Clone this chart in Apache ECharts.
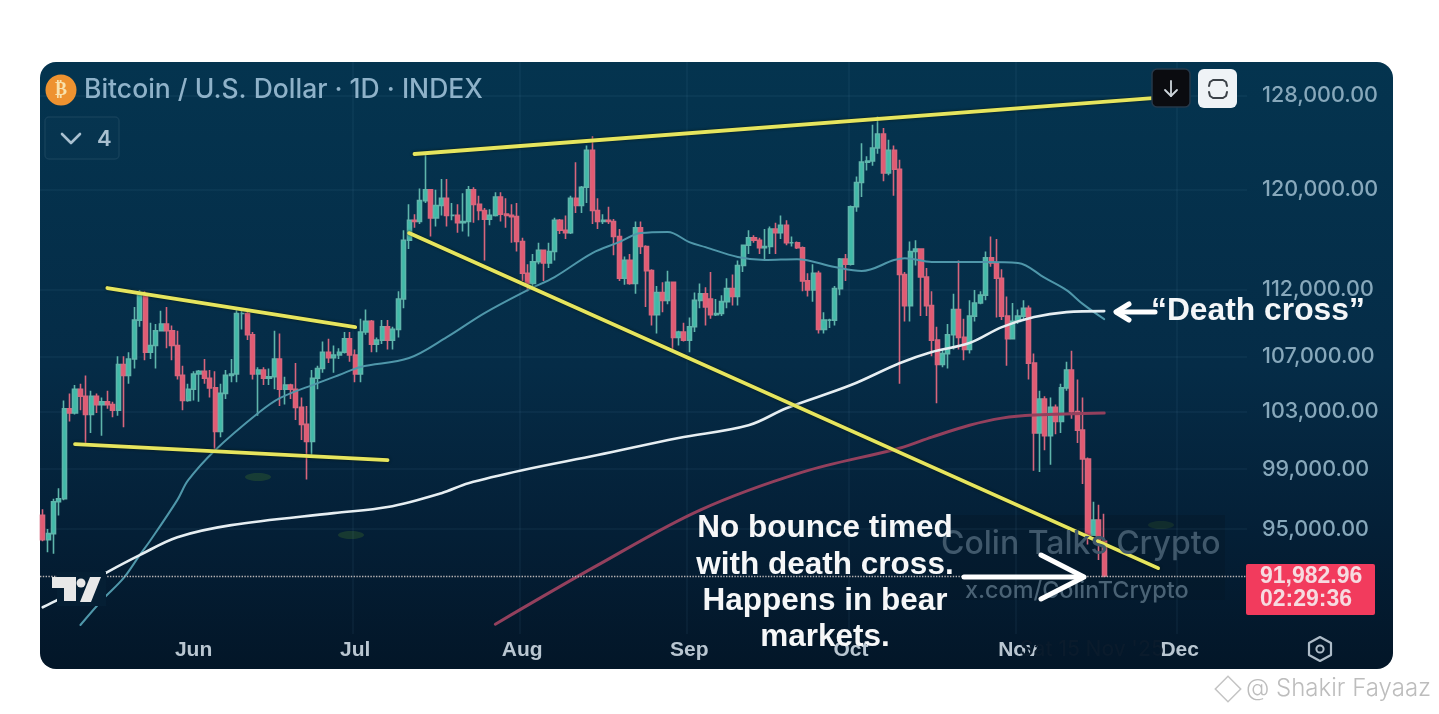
<!DOCTYPE html>
<html><head><meta charset="utf-8">
<style>html,body{margin:0;padding:0;background:#fff}#c{width:1439px;height:714px}</style>
<script src="https://cdn.jsdelivr.net/npm/echarts@6/dist/echarts.min.js"></script>
</head><body><div id="c"></div>
<script>
const opens=[95900,94300,94700,96800,97000,103200,102900,104600,104100,102800,104100,103500,103700,103500,103100,106400,105600,106800,109700,111700,107300,107800,108900,109400,108900,107800,105600,103800,
104600,105700,105900,105400,104700,101600,104300,105600,105700,110200,110200,108600,105700,106000,105400,105500,106800,104600,104900,104600,103300,102100,100900,105400,106100,107300,106900,107100,107300,108300,
107100,105700,108800,109600,107900,108200,109200,108200,109000,111300,115900,117500,117400,119100,120000,117700,118700,119300,117900,117900,117300,117400,120000,118800,118300,117600,117900,119400,118000,117900,117800,
115800,113300,112500,114200,115100,114100,115000,117500,116700,116500,119300,118700,120200,123300,118300,117400,117500,117400,116200,112900,114300,112500,116900,115400,113500,110100,111800,111200,112600,108400,108800,
108200,109200,111200,111700,111300,110100,110200,111100,112100,111500,113900,115500,116100,115900,115300,115400,116800,116500,117100,115700,115700,115300,112700,112000,113300,109000,109700,109700,112100,114400,
114000,118600,120600,122300,122400,123500,124700,121400,123300,121700,113200,110800,115000,115200,113000,110800,108200,106400,107200,108600,110500,108400,107500,110000,111000,111600,114500,114100,112900,110000,108300,
109600,110000,110600,106500,101500,103900,101300,103300,102300,104700,106000,103000,101700,99700,94600,95600,94200];
const closes=[94300,94700,96800,97000,103200,102900,104600,104100,102800,104100,103500,103700,103500,103100,106400,105600,106800,109700,111700,107300,107800,108900,109400,108900,107800,105600,103800,104600,
105700,105900,105400,104700,101600,104300,105600,105700,110200,110200,108600,105700,106000,105400,105500,106800,104600,104900,104600,103300,102100,100900,105400,106100,107300,106900,107100,107300,108300,107100,
105700,108800,109600,107900,108200,109200,108200,109000,111300,115900,117500,117400,119100,120000,117700,118700,119300,117900,117900,117300,117400,120000,118800,118300,117600,117900,119400,118000,117900,117800,115800,
113300,112500,114200,115100,114100,115000,117500,116700,116500,119300,118700,120200,123300,118300,117400,117500,117400,116200,112900,114300,112500,116900,115400,113500,110100,111800,111200,112600,108400,108800,108200,
109200,111200,111700,110700,110100,110200,111100,112100,111500,113900,115500,116100,115900,115300,115400,116800,116500,117100,115700,115700,115300,112700,112000,113300,109000,109700,109700,112100,114400,114000,
118600,120600,122300,122400,123500,124700,121400,123300,121700,113200,110800,115000,115200,113000,110800,108200,106400,107200,108600,110500,108400,107500,110000,111000,111600,114500,114100,112900,110000,108300,109600,
110000,110600,106500,101500,103900,101300,103300,102300,104700,106000,103000,101700,99700,94600,95600,94200,91983];
const lows=[94200,93500,93400,95900,96900,102300,102800,103100,100800,101500,102900,101300,103200,102600,102700,101900,105000,106100,109200,106700,106800,106100,108900,107600,106700,105300,103100,103700,
103800,103700,105000,104000,100400,101200,103900,105100,105100,109000,108200,105300,102700,104900,104900,104600,103400,103500,103900,102400,101000,98300,99800,104600,105800,106500,105800,106800,107200,106600,
105100,105100,108600,107300,107300,107900,107500,107500,108400,110600,115200,116900,117200,118900,116200,117000,117900,117000,117500,116500,116600,116200,117300,117500,114300,117100,117800,117400,116900,115700,115000,
112700,111900,112000,114000,112700,113700,114300,116400,116000,116400,118100,118100,118900,117200,116800,117200,117200,114700,112700,112400,112400,111700,114800,110700,109300,108700,110300,110900,107500,107800,108100,
107300,108800,110600,109300,109800,110000,110000,110600,110800,110800,113400,114800,115700,114800,114400,114800,114800,116000,115500,115400,115200,111900,111500,111100,108700,108700,109100,109300,111600,112700,
113900,118200,119400,121600,122000,123000,120700,121200,119500,105000,109600,109600,113900,110000,110000,107000,103600,106200,106100,107500,107500,106700,107200,109600,110900,111200,113800,109900,109700,106300,108300,
109400,109700,105300,98900,98800,100300,99300,101400,101500,104500,102500,100800,98000,94000,94600,93000,91900];
const highs=[96300,95000,97000,97700,103800,104300,104900,105000,105600,104500,104300,104000,104500,103700,107000,107000,107300,110700,112000,111900,109500,109400,110400,110700,109300,108900,106300,105000,
105900,106000,106800,106000,105900,105000,106000,106800,110600,110600,110400,108800,106200,106200,106100,108900,108700,105500,105000,106500,104000,103400,106000,106300,108100,108300,107800,107600,108800,108800,
107500,109800,110500,109700,108400,109700,109700,109200,111900,116700,118800,118000,120100,123100,120000,120000,120900,120900,118900,118800,119700,120300,120200,119500,118500,118400,119800,119800,119300,118800,118900,
116100,114000,114800,115700,115100,115700,117700,117600,117900,119500,122300,120300,123700,124500,119300,118000,118600,117600,116800,114600,114800,117400,117400,115500,113600,112300,112600,113500,112600,108900,109500,
109900,111800,112500,112200,113400,111300,111600,112900,113200,114300,115500,116700,116300,116100,116800,117000,117300,117900,117500,116200,115800,115400,113300,114000,113500,110300,109800,112300,114500,114800,
118700,121100,123900,122800,125500,126200,125200,124200,123700,122500,113400,115800,115900,115200,113700,111900,109200,107500,109400,111700,114300,109800,111200,112000,111900,115000,116200,116000,113600,111500,111000,
110500,111200,110800,107200,104500,104100,104000,103500,105000,106600,107400,105300,104000,99800,96800,96600,96000];
const ma50=[['2025-05-11',88930],['2025-05-15',90460],['2025-05-19',91840],['2025-05-22',93310],['2025-05-24',94270],['2025-05-29',96930],['2025-05-31',98250],['2025-06-05',100300],['2025-06-13',102900],['2025-06-17',103960],['2025-06-24',105040],['2025-06-28',105630],['2025-07-02',106210],['2025-07-11',106870],['2025-07-18',108420],['2025-07-25',110230],['2025-08-02',111990],['2025-08-07',113000],['2025-08-14',114880],['2025-08-19',115750],['2025-08-23',116470],['2025-08-28',116560],['2025-09-01',115750],['2025-09-04',115350],['2025-09-10',114570],['2025-09-15',114330],['2025-09-21',114400],['2025-09-28',113780],['2025-10-03',113470],['2025-10-09',114330],['2025-10-11',114480],['2025-10-16',114180],['2025-10-26',114180],['2025-11-01',114100],['2025-11-06',112930],['2025-11-10',111990],['2025-11-13',110930],['2025-11-17',109770]];
const ma100=[['2025-05-04',90020],['2025-05-07',90530],['2025-05-16',92230],['2025-05-22',93310],['2025-05-29',94470],['2025-06-08',95260],['2025-06-27',96050],['2025-07-07',96450],['2025-07-17',97380],['2025-07-22',98050],['2025-08-01',98930],['2025-08-15',99970],['2025-08-30',101150],['2025-09-12',102040],['2025-09-19',103240],['2025-10-01',104900],['2025-10-10',106490],['2025-10-16',107320],['2025-10-23',107980],['2025-10-29',109170],['2025-11-04',109930],['2025-11-10',110300],['2025-11-17',110380]];
const ma200=[['2025-07-27',88980],['2025-08-15',92670],['2025-09-03',96250],['2025-09-22',98800],['2025-10-10',100440],['2025-10-16',101210],['2025-10-23',102040],['2025-10-29',102540],['2025-11-04',102760],['2025-11-17',102900]];
const trendUpper=[['2025-05-16',112150],['2025-07-01',109170]];
const trendLower=[['2025-05-10',100720],['2025-07-07',99620]];
const trendTop=[['2025-07-12',122990],['2025-11-26',127820]];
const trendLong=[['2025-07-11',116470],['2025-11-27',92480]];
const priceTicks=[95000,99000,103000,107000,112000,120000,128000];
const monthLabels={'06':'Jun','07':'Jul','08':'Aug','09':'Sep','10':'Oct','11':'Nov','12':'Dec'};
const lastPrice=91982.96;

const categories=[];
for(let i=0;i<224;i++){categories.push(new Date(Date.UTC(2025,4,4+i)).toISOString().slice(0,10));}
const candles=opens.map((o,i)=>[o,closes[i],lows[i],highs[i]]);
const isMonthStart=(idx,v)=>v.slice(8)==='01'&&monthLabels[v.slice(5,7)]!==undefined;
const sans='Inter, "Liberation Sans", sans-serif';
const bold='"Liberation Sans", Arial, sans-serif';
const line=(name,data,color,width,z,extra)=>Object.assign({name,type:'line',data,symbol:'none',silent:true,z,animation:false,
  lineStyle:{color,width,cap:'round'}},extra||{});
const yellowStyle={color:'#e6e55e',width:3.8,cap:'round',shadowColor:'rgba(10,20,0,.75)',shadowBlur:3};
const t=(x,y,text,font,fill,extra)=>({type:'text',z:200,x,y,style:Object.assign({text,font,fill,textAlign:'left',textVerticalAlign:'middle'},extra||{})});
const pl=(points,stroke,lw,z)=>({type:'polyline',z:z||200,shape:{points},style:{stroke,lineWidth:lw,fill:null,lineCap:'round',lineJoin:'round'}});

const graphics=[
 {type:'rect',z:-10,shape:{x:40,y:62,width:1353,height:607,r:16},style:{fill:{type:'linear',x:0,y:0,x2:0,y2:1,colorStops:[{offset:0,color:'#04344f'},{offset:.5,color:'#052c47'},{offset:.78,color:'#041f36'},{offset:1,color:'#031628'}]}}},
 {type:'ellipse',z:-5,shape:{cx:258,cy:477,rx:13,ry:4},style:{fill:'rgba(70,120,40,.30)'}},
 {type:'ellipse',z:-5,shape:{cx:351,cy:535,rx:13,ry:4},style:{fill:'rgba(70,120,40,.30)'}},
 {type:'ellipse',z:-5,shape:{cx:1161,cy:525,rx:13,ry:4},style:{fill:'rgba(70,120,40,.30)'}},
 {type:'rect',z:-4,shape:{x:950,y:515,width:275,height:85},style:{fill:'rgba(6,22,38,.35)'}},
 t(941,544,'Colin Talks Crypto','500 32px '+sans,'#40586b',{}),
 t(965,591,'x.com/ColinTCrypto','500 23.4px '+sans,'#4a6274',{}),
 {type:'circle',z:200,shape:{cx:61,cy:90,r:15.5},style:{fill:'#ee9230'}},
 t(61,90,'₿','bold 18px "DejaVu Sans"','#f8e2ae',{textAlign:'center'}),
 t(84,90,'Bitcoin / U.S. Dollar · 1D · INDEX','500 26.5px '+sans,'#8fb2c9'),
 {type:'rect',z:200,shape:{x:45,y:117,width:74,height:42,r:4},style:{fill:'rgba(255,255,255,.01)',stroke:'#15405a',lineWidth:1.5}},
 pl([[62,134],[71,143],[80,134]],'#a9c0d0',2.6),
 t(97,139,'4','600 22px '+sans,'#a9c0d0'),
 {type:'rect',z:200,shape:{x:1152,y:69,width:38,height:38,r:5},style:{fill:'#0b0c10',stroke:'#25384a',lineWidth:1.5}},
 pl([[1171,81],[1171,96]],'#cfd6dc',1.8),pl([[1165,90],[1171,96],[1177,90]],'#cfd6dc',1.8),
 {type:'rect',z:200,shape:{x:1198,y:69,width:39,height:39,r:6},style:{fill:'#eff3f6'}},
 pl([[1209,86],[1210,82],[1213,80],[1223,80],[1226,82],[1227,86]],'#3c4248',2),
 pl([[1209,92],[1210,96],[1213,98],[1223,98],[1226,96],[1227,92]],'#3c4248',2),
 {type:'rect',z:200,shape:{x:57,y:572,width:49,height:34},style:{fill:'#051f34'}},
 {type:'polygon',z:201,shape:{points:[[52,577],[76,577],[76,601],[64,601],[64,588],[52,588]]},style:{fill:'#e8e8e8'}},
 {type:'circle',z:201,shape:{cx:81,cy:583,r:4.5},style:{fill:'#e8e8e8'}},
 {type:'polygon',z:201,shape:{points:[[90,577],[101,577],[91,602],[80,602]]},style:{fill:'#e8e8e8'}},
 {type:'rect',z:200,shape:{x:1246,y:564,width:129,height:51,r:2},style:{fill:'#f23b5d'}},
 t(1260,577,'91,982.96','bold 23px '+bold,'#f6dbe0'),
 t(1260,600,'02:29:36','bold 23px '+bold,'#f6dbe0'),
 {type:'polygon',z:200,shape:{points:[[1320,637],[1331,643],[1331,655],[1320,661],[1309,655],[1309,643]]},style:{fill:null,stroke:'#aebcc8',lineWidth:2.2,lineJoin:'round'}},
 {type:'circle',z:200,shape:{cx:1320,cy:649,r:3.6},style:{fill:null,stroke:'#aebcc8',lineWidth:2}},
 t(1020,650,'Sat 15 Nov \'25','500 21px '+sans,'#0a1b2c'),
 pl([[1117,312],[1155,312]],'#ffffff',5,210),pl([[1129,304],[1116,312],[1129,320]],'#ffffff',5,210),
 t(1151,311,'“Death cross”','bold 31.8px '+bold,'#f4f6f8',{}),
 pl([[964,577],[1082,577]],'#ffffff',5,210),pl([[1041,555],[1084,577],[1041,599]],'#ffffff',5,210),
 t(825,528,'No bounce timed','bold 31.5px '+bold,'#f6f7f8',{textAlign:'center'}),
 t(825,565,'with death cross.','bold 31.5px '+bold,'#f6f7f8',{textAlign:'center'}),
 t(825,601,'Happens in bear','bold 31.5px '+bold,'#f6f7f8',{textAlign:'center'}),
 t(825,637,'markets.','bold 31.5px '+bold,'#f6f7f8',{textAlign:'center'}),
 {type:'rect',z:200,x:1228,y:689,rotation:Math.PI/4,shape:{x:-9,y:-9,width:18,height:18},style:{fill:null,stroke:'#c4c4c4',lineWidth:1.5}},
 t(1246,689,'@ Shakir Fayaaz','300 24px '+sans,'#bdbdbd')
];

const chart=echarts.init(document.getElementById('c'),null,{renderer:'canvas'});
chart.setOption({
 animation:false,backgroundColor:'#ffffff',
 grid:{left:40,top:62,width:1207,height:572,containLabel:false},
 xAxis:{type:'category',data:categories,boundaryGap:true,
  axisLine:{show:false},axisTick:{show:false},
  axisLabel:{interval:isMonthStart,formatter:v=>monthLabels[v.slice(5,7)],margin:6,color:'#b9c6d1',fontFamily:bold,fontWeight:'bold',fontSize:21},
  splitLine:{show:true,showMinLine:false,showMaxLine:false,interval:isMonthStart,lineStyle:{color:'rgba(130,175,200,.08)',width:1.5}}},
 yAxis:{type:'log',position:'right',min:88380,max:131030,
  axisLine:{show:false},axisTick:{show:false,customValues:priceTicks},
  axisLabel:{customValues:priceTicks,margin:15,padding:[2,0,0,0],color:'#87a8bb',fontFamily:sans,fontWeight:500,fontSize:21.5,
    formatter:v=>Number(v).toLocaleString('en-US',{minimumFractionDigits:2,maximumFractionDigits:2})},
  splitLine:{show:true,lineStyle:{color:'rgba(130,175,200,.08)',width:1.5}}},
 graphic:{elements:graphics},
 series:[
  {name:'BTCUSD',type:'candlestick',data:candles,barWidth:4.6,z:3,silent:true,
   itemStyle:{color:'#3fbaa8',color0:'#e35a72',borderColor:'#5fb5ab',borderColor0:'#d7657c',borderWidth:1.6}},
  line('MA50',ma50,'#4f97aa',2,4,{smooth:0.35}),
  line('MA100',ma100,'#e6eef2',2.6,4,{smooth:0.35}),
  line('MA200',ma200,'#93405d',3,4,{smooth:0.35}),
  line('Upper',trendUpper,'#e6e55e',3.8,6,{lineStyle:yellowStyle}),
  line('Lower',trendLower,'#e6e55e',3.8,6,{lineStyle:yellowStyle}),
  line('Top',trendTop,'#e6e55e',3.8,6,{lineStyle:yellowStyle}),
  line('Long',trendLong,'#e6e55e',3.8,6,{lineStyle:yellowStyle,
   markLine:{symbol:'none',silent:true,animation:false,label:{show:false},lineStyle:{type:'dotted',color:'#b9b4b4',width:1.4},data:[{yAxis:lastPrice}]}})
 ]
});
</script></body></html>
